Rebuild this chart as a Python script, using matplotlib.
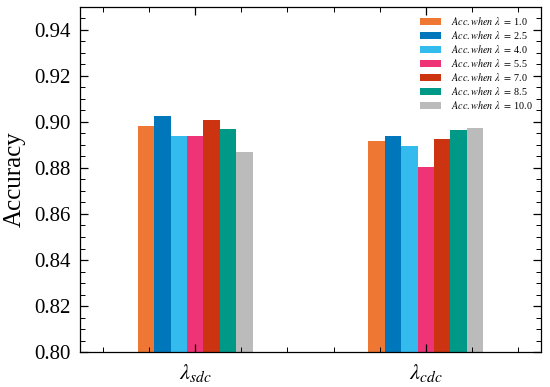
import numpy as np
import matplotlib
matplotlib.use("Agg")
import matplotlib.pyplot as plt
from matplotlib.ticker import MultipleLocator

plt.rcParams['font.family'] = ['Liberation Serif', 'DejaVu Serif']
plt.rcParams['mathtext.fontset'] = 'stix'

# data
groups = [r'$\lambda_{sdc}$', r'$\lambda_{cdc}$']
lambdas = ['1.0', '2.5', '4.0', '5.5', '7.0', '8.5', '10.0']
acc_sdc = [0.8981, 0.9026, 0.8940, 0.8937, 0.9007, 0.8971, 0.8868]
acc_cdc = [0.8916, 0.8940, 0.8897, 0.8806, 0.8924, 0.8963, 0.8972]
colors = ['#EE7733', '#0077BB', '#33BBEE', '#EE3377', '#CC3311', '#009988', '#BBBBBB']

fig = plt.figure(figsize=(5.5, 3.87), dpi=100)
ax = fig.add_axes([0.1455, 0.0904, 0.8381, 0.8916])

x = np.arange(len(groups))
n = len(lambdas)
width = 0.5 / n
for i, lam in enumerate(lambdas):
    vals = [acc_sdc[i], acc_cdc[i]]
    ax.bar(x + (i - (n - 1) / 2) * width, vals, width, color=colors[i],
           label=r'$Acc.when\ \lambda\ =\ $' + lam)

ax.set_xlim(-0.5, 1.5)
ax.set_ylim(0.80, 0.95)
ax.set_xticks(x)
ax.set_xticklabels(groups, fontsize=16)
ax.xaxis.set_minor_locator(MultipleLocator(0.2))
ax.yaxis.set_minor_locator(MultipleLocator(0.005))
yt = np.arange(0.80, 0.9401, 0.02)
ax.set_yticks(yt)
ax.set_yticklabels(['%.2f' % v for v in yt], fontsize=15)
ax.set_ylabel('Accuracy', fontsize=18, labelpad=6)

ax.tick_params(which='both', direction='in', top=True, right=True)
ax.tick_params(which='major', length=6, width=0.9, pad=7)
ax.tick_params(which='minor', length=3.5, width=0.7)
for s in ax.spines.values():
    s.set_linewidth(0.9)

ax.legend(loc='upper right', frameon=False, fontsize=7.3, handlelength=2.0,
          handleheight=0.7, labelspacing=0.2, borderaxespad=0.4,
          handletextpad=1.0)

fig.savefig('out.png', dpi=100)
